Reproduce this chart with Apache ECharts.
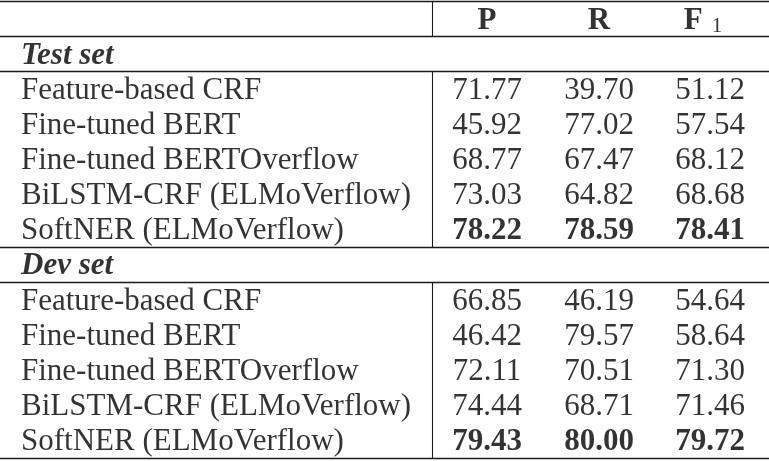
<!DOCTYPE html>
<html><head><meta charset="utf-8">
<script src="https://cdn.jsdelivr.net/npm/echarts@6/dist/echarts.min.js"></script>
<style>html,body{margin:0;padding:0;background:#fff}#c{width:769px;height:461px}</style>
</head><body><div id="c"></div>
<script>
var columns = ['P', 'R', 'F1'];
var sections = ['Test set', 'Dev set'];
var models = ['Feature-based CRF', 'Fine-tuned BERT', 'Fine-tuned BERTOverflow', 'BiLSTM-CRF (ELMoVerflow)', 'SoftNER (ELMoVerflow)'];
var testP = [71.77, 45.92, 68.77, 73.03, 78.22];
var testR = [39.70, 77.02, 67.47, 64.82, 78.59];
var testF1 = [51.12, 57.54, 68.12, 68.68, 78.41];
var devP = [66.85, 46.42, 72.11, 74.44, 79.43];
var devR = [46.19, 79.57, 70.51, 68.71, 80.00];
var devF1 = [54.64, 58.64, 71.30, 71.46, 79.72];

// layout
var FONT = 'Liberation Serif';
var FS = 31;
var labelX = 21;
var colX = [487, 599, 710];
var sepX = 432;
var DY = 1.5;

var blocks = [[testP, testR, testF1], [devP, devR, devF1]];
var rowLabelData = [], sectionData = [], cellData = [];
var row = 1;
blocks.forEach(function (blk, s) {
  sectionData.push([labelX, row + 0.5, sections[s]]);
  row++;
  models.forEach(function (m, i) {
    rowLabelData.push([labelX, row + 0.5, m]);
    blk.forEach(function (arr, j) {
      var mx = Math.max.apply(null, arr);
      cellData.push({ value: [colX[j], row + 0.5, arr[i]], bold: arr[i] === mx });
    });
    row++;
  });
});
var nRows = row;

var headerData = columns.map(function (c, j) {
  return c === 'F1'
    ? { value: [colX[j], 0.5, c], label: { offset: [-7, DY] } }
    : { value: [colX[j], 0.5, c] };
});

var base = { fontFamily: FONT, fontSize: FS, color: '#000' };
function lbl(extra) {
  return Object.assign({ show: true, position: 'inside', offset: [0, DY], verticalAlign: 'middle' }, base, extra);
}
var hidden = { symbolSize: 1, itemStyle: { color: 'rgba(0,0,0,0)' }, silent: true };

var option = {
  animation: false,
  grid: { left: 0, right: 0, top: 1.5, bottom: 3 },
  xAxis: { type: 'value', min: 0, max: 769, show: false },
  yAxis: { type: 'value', min: 0, max: nRows, inverse: true, show: false },
  series: [
    Object.assign({
      type: 'scatter', data: headerData,
      label: lbl({
        align: 'center',
        formatter: function (p) {
          return p.value[2] === 'F1' ? '{b|F}{s|1}' : '{b|' + p.value[2] + '}';
        },
        rich: {
          b: { fontFamily: FONT, fontSize: FS, fontWeight: 'bold', color: '#000' },
          s: { fontFamily: FONT, fontSize: 21, color: '#000', padding: [11, 0, 0, 9] }
        }
      }),
      markLine: {
        symbol: 'none', silent: true, label: { show: false },
        lineStyle: { color: '#1a1a1a', width: 1.4, type: 'solid' },
        data: [{ yAxis: 0 }, { yAxis: 1 }, { yAxis: 2 }, { yAxis: 7 }, { yAxis: 8 }, { yAxis: nRows }]
      }
    }, hidden),
    Object.assign({
      type: 'scatter', data: sectionData,
      label: lbl({ align: 'left', fontWeight: 'bold', fontStyle: 'italic', formatter: function (p) { return p.value[2]; } }),
      markLine: {
        symbol: 'none', silent: true, label: { show: false },
        lineStyle: { color: '#1a1a1a', width: 1.1, type: 'solid' },
        data: [
          [{ coord: [sepX, 0] }, { coord: [sepX, 1] }],
          [{ coord: [sepX, 2] }, { coord: [sepX, 7] }],
          [{ coord: [sepX, 8] }, { coord: [sepX, nRows] }]
        ]
      }
    }, hidden),
    Object.assign({
      type: 'scatter', data: rowLabelData,
      label: lbl({ align: 'left', formatter: function (p) { return p.value[2]; } })
    }, hidden),
    Object.assign({
      type: 'scatter', data: cellData,
      label: lbl({
        align: 'center',
        formatter: function (p) {
          var t = p.value[2].toFixed(2);
          return p.data.bold ? '{b|' + t + '}' : t;
        },
        rich: { b: { fontFamily: FONT, fontSize: FS, fontWeight: 'bold', color: '#000' } }
      })
    }, hidden)
  ]
};
var chart = echarts.init(document.getElementById('c'), null, { renderer: 'canvas' });
chart.setOption(option);
</script></body></html>
